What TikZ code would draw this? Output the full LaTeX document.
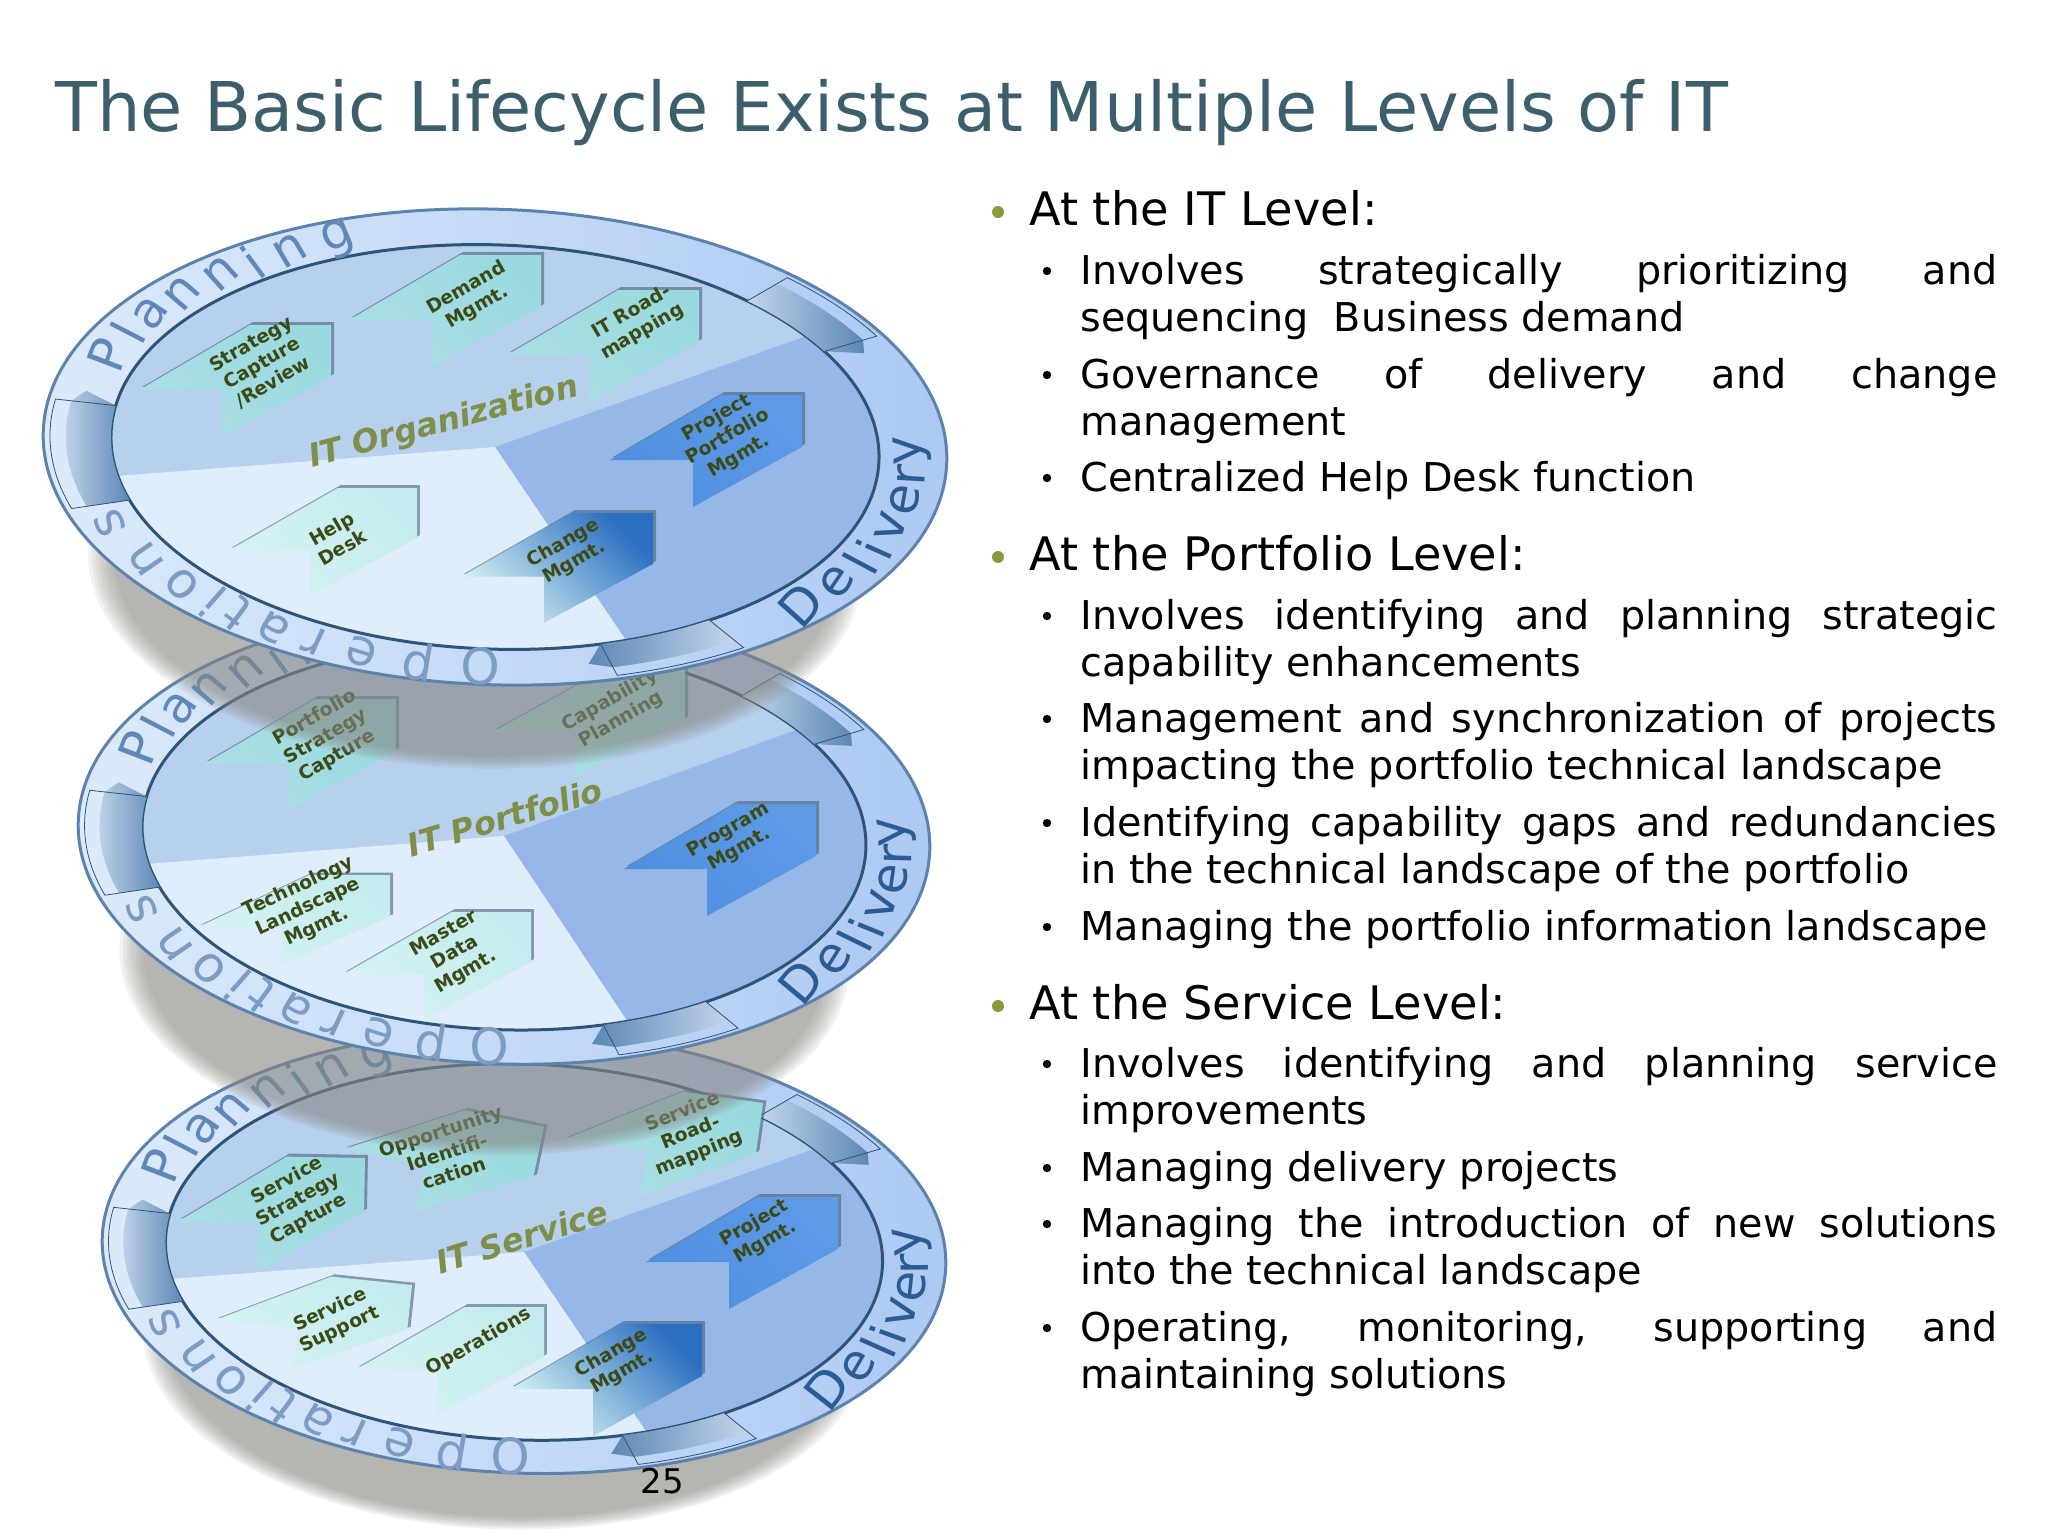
\documentclass[tikz,border=0pt]{standalone}
\usepackage{fontspec}
\setmainfont{DejaVu Sans}
\definecolor{titleteal}{HTML}{3D5F6B}
\definecolor{headdot}{HTML}{8A9A3C}
\definecolor{ringhi}{HTML}{DCEBFB}
\definecolor{ringlo}{HTML}{ADC9F3}
\definecolor{ringedge}{HTML}{5D82AD}
\definecolor{innerline}{HTML}{2E5478}
\definecolor{planfill}{HTML}{B7D0EE}
\definecolor{delfill}{HTML}{96B8E8}
\definecolor{opsfill}{HTML}{DFEDFC}
\definecolor{segdark}{HTML}{5B87B5}
\definecolor{seglight}{HTML}{C5D6EA}
\definecolor{planink}{HTML}{5F88B8}
\definecolor{delink}{HTML}{2A5C93}
\definecolor{opsink}{HTML}{7D9CC4}
\definecolor{tealL}{HTML}{ABDFE5}
\definecolor{tealR}{HTML}{9ADADF}
\definecolor{bluL}{HTML}{4F8FE0}
\definecolor{bluR}{HTML}{5D9AE6}
\definecolor{paleL}{HTML}{D6F3F3}
\definecolor{paleR}{HTML}{C4ECEE}
\definecolor{mixR}{HTML}{2C6FC0}
\definecolor{chevink}{HTML}{3B4A16}
\definecolor{labelink}{HTML}{7F8F4A}
\tikzset{
  discshadow/.style={fill={rgb,255:red,138;green,138;blue,133}, opacity=0.108},
  ringlet/.style={inner sep=0pt, font=\fontsize{25}{25}\selectfont},
  chevrim/.style={fill=innerline!70!gray, opacity=0.6},
  chevtext/.style={inner sep=0pt, align=center, text=chevink, font=\fontsize{9.4}{11}\selectfont\bfseries},
  disclabel/.style={inner sep=0pt, text=labelink, font=\fontsize{16}{16}\selectfont\bfseries\itshape},
  lvlhead/.style={anchor=base west, inner sep=0pt, font=\fontsize{23.1}{27}\selectfont},
  subitem/.style={anchor=base west, inner sep=0pt, text width=458.5pt, align=justify, font=\fontsize{19.85}{23.85}\selectfont},
  headbul/.style={circle, fill=headdot, inner sep=0pt, minimum size=6pt},
  subbul/.style={circle, fill=black, inner sep=0pt, minimum size=4.2pt}
}
% one disc: name, cx, cy, radius, squash, tilt, shadow drop, spin of the right word
\newcommand{\itdisc}[8]{
  \begin{scope}[shift={(#2-20,-#3-#7)},rotate=#6,yscale=#5]
    \foreach \g in {0,...,7}
      \fill[discshadow] (0,0) circle[radius={(.80+.008*\g)*#4}];
  \end{scope}
  \begin{scope}[shift={(#2,-#3)},rotate=#6,yscale=#5]
    \pgfmathsetmacro{\Ri}{.85*#4}
    \pgfmathsetmacro{\Rm}{.925*#4}
    \pgfmathsetmacro{\Rs}{.95*#4}
    \pgfmathsetmacro{\Rb}{.985*#4}
    \draw[ringedge, line width=1.5pt, left color=ringhi, right color=ringlo] (0,0) circle[radius=#4];
    \fill[planfill] (0,0) circle[radius=\Ri];
    \fill[delfill] (0,0) -- (37:\Ri) arc[start angle=37, end angle=-69, radius=\Ri] -- cycle;
    \fill[opsfill] (0,0) -- (192:\Ri) arc[start angle=192, end angle=291, radius=\Ri] -- cycle;
    \draw[innerline, line width=1.5pt] (0,0) circle[radius=\Ri];
    % ring arrows
    \foreach \ta/\tb/\ca/\cb in {50/32/seglight/segdark, 199/172/seglight/segdark, -55/-73/segdark/seglight} {
      \shade[left color=\ca, right color=\cb] (\ta:\Rs) arc[start angle=\ta, end angle=\tb, radius=\Rs]
        -- ({\tb-3}:\Rm) -- (\tb:\Ri) arc[start angle=\tb, end angle=\ta, radius=\Ri] -- cycle;
      \draw[innerline, thin] (\ta:\Ri) -- (\ta:\Rb) arc[start angle=\ta, end angle=\tb, radius=\Rb] -- (\tb:\Ri);
    }
    \foreach \i/\ch/\ang in {1/P/159, 2/l/152.5, 3/a/146.5, 4/n/139.5, 5/n/132, 6/i/126.5, 7/n/120.5, 8/g/113}
      \node[ringlet, text=planink, rotate=\ang-90] (#1pl\i) at (\ang:\Rm) {\ch};
    \begin{scope}[rotate=#8]
      \foreach \i/\ch/\ang in {1/D/-42, 2/e/-34, 3/l/-28, 4/i/-24, 5/v/-17.5, 6/e/-10, 7/r/-3.5, 8/y/3}
        \node[ringlet, text=delink, rotate=\ang+90+#8] (#1de\i) at (\ang:\Rm) {\ch};
    \end{scope}
    \foreach \i/\ch/\ang in {1/O/269, 2/p/260.5, 3/e/252.5, 4/r/245.5, 5/a/239, 6/t/233, 7/i/228.5, 8/o/222.5, 9/n/214.5, 10/s/204}
      \node[ringlet, text=opsink, rotate=\ang-90] (#1op\i) at (\ang:\Rm) {\ch};
  \end{scope}
}
% body of the chevron loops
\newcommand{\chevbody}{
  \begin{scope}[shift={(\x,-\y)},rotate=\rot,xscale=\sx,yscale=\sy]
    \fill[chevrim] (-78,3) -- (3,3) -- (3,-49) -- (-106,-109) -- (-106,-62) -- (-189,-62) -- cycle;
    \shade[left color=\ca, right color=\cb, shading angle=135] (-81,0) -- (0,0) -- (0,-52) -- (-109,-112) -- (-109,-65) -- (-192,-65) -- cycle;
  \end{scope}
  \node[chevtext, rotate=\trot] (\n) at (\tx,-\ty) {\txt};
}
\begin{document}
\begin{tikzpicture}[x=0.5pt,y=0.5pt]
  \useasboundingbox (0,0) rectangle (2048,-1536);
  \fill[white] (0,0) rectangle (2048,-1536);

  %service level
  \itdisc{sv}{524}{1252}{422}{.524}{-2}{88}{4}
  \foreach \n/\x/\y/\sx/\sy/\rot/\ca/\cb/\tx/\ty/\trot/\txt in {
    svstrat/365/1158/.97/1.03/-1/tealL/tealR/298/1200/29/{Service\\Strategy\\Capture},
    svopp/544/1127/1/.98/-12/tealL/tealR/447/1152/18/{Opportunity\\Identifi-\\cation},
    svroad/763/1103/1/.98/-8/tealL/tealR/691/1133/22/{Service\\Road-\\mapping},
    svproj/838/1197/1/1/0/bluL/bluR/760/1233/30/{Project\\Mgmt.},
    svsupp/412/1285/1/.85/-6/paleL/paleR/335/1320/25/{Service\\Support},
    svoper/544/1307/.98/.96/0/paleL/paleR/479/1342/30/{Operations},
    svchg/702/1324/1/1/0/paleL/mixR/617/1363/30/{Change\\Mgmt.}} {
    \chevbody
  }
  \node[disclabel, rotate=17] (svlabel) at (522,-1237) {IT Service};

  %portfolio level
  \itdisc{pf}{504}{836}{426}{.535}{-2}{124}{2}
  \foreach \n/\x/\y/\sx/\sy/\rot/\ca/\cb/\tx/\ty/\trot/\txt in {
    pfstrat/396/699/1/1/0/tealL/tealR/326/737/30/{Portfolio\\Strategy\\Capture},
    pfcap/685/670/1/.95/0/tealL/tealR/616/710/30/{Capability\\Planning},
    pfprog/816/804/1/1/0/bluL/bluR/734/840/30/{Program\\Mgmt.},
    pftech/390/875/1/.8/0/paleL/paleR/308/907/25/{Technology\\Landscape\\Mgmt.},
    pfmast/531/912/.98/.96/0/paleL/paleR/455/953/30/{Master\\Data\\Mgmt.}} {
    \chevbody
  }
  \node[disclabel, rotate=16.5] (pflabel) at (505,-817) {IT Portfolio};

  %it level
  \itdisc{it}{495}{447}{452}{.526}{-2}{118}{0}
  \foreach \n/\x/\y/\sx/\sy/\rot/\ca/\cb/\tx/\ty/\trot/\txt in {
    itstrat/331/325/1/1/0/tealL/tealR/262/363/30/{Strategy\\Capture\\/Review},
    itdem/541/255/1/1/0/tealL/tealR/472/298/30/{Demand\\Mgmt.},
    itroad/699/290/1/1/0/tealL/tealR/637/322/30/{IT Road-\\mapping},
    itport/802/395/1/1/0/bluL/bluR/728/437/30/{Project\\Portfolio\\Mgmt.},
    ithelp/417/488/.98/.96/0/paleL/paleR/337/538/30/{Help\\Desk},
    itchg/653/513/1/.98/0/paleL/mixR/569/553/30/{Change\\Mgmt.}} {
    \chevbody
  }
  \node[disclabel, rotate=15] (itlabel) at (444,-423) {IT Organization};

  %title and page number
  \node[anchor=base west, inner sep=0pt, text=titleteal, font=\fontsize{34.3}{40}\selectfont] (title) at (55,-132) {The Basic Lifecycle Exists at Multiple Levels of IT};
  \node[inner sep=0pt, font=\fontsize{17}{20}\selectfont] (pageno) at (662,-1481) {25};

  %text
  \foreach \n/\y/\txt in {h1/225/At the IT Level:, h2/570/At the Portfolio Level:, h3/1019/At the Service Level:} {
    \node[headbul] (dot\n) at (998,{-\y+13}) {};
    \node[lvlhead] (\n) at (1029,-\y) {\txt};
  }
  \foreach \n/\y/\txt in {
    a1/284/{Involves strategically prioritizing and\linebreak sequencing\ \ Business demand},
    a2/388/{Governance of delivery and change\linebreak management},
    a3/491/{Centralized Help Desk function},
    b1/629/{Involves identifying and planning strategic\linebreak capability enhancements},
    b2/732/{Management and synchronization of projects\linebreak impacting the portfolio technical landscape},
    b3/836/{Identifying capability gaps and redundancies\linebreak in the technical landscape of the portfolio},
    b4/940/{Managing the portfolio information landscape},
    c1/1077/{Involves identifying and planning service\linebreak improvements},
    c2/1181/{Managing delivery projects},
    c3/1237/{Managing the introduction of new solutions\linebreak into the technical landscape},
    c4/1341/{Operating, monitoring, supporting and\linebreak maintaining solutions}} {
    \node[subbul] (dot\n) at (1047,{-\y+13}) {};
    \node[subitem] (\n) at (1080,-\y) {\txt};
  }
\end{tikzpicture}
\end{document}
